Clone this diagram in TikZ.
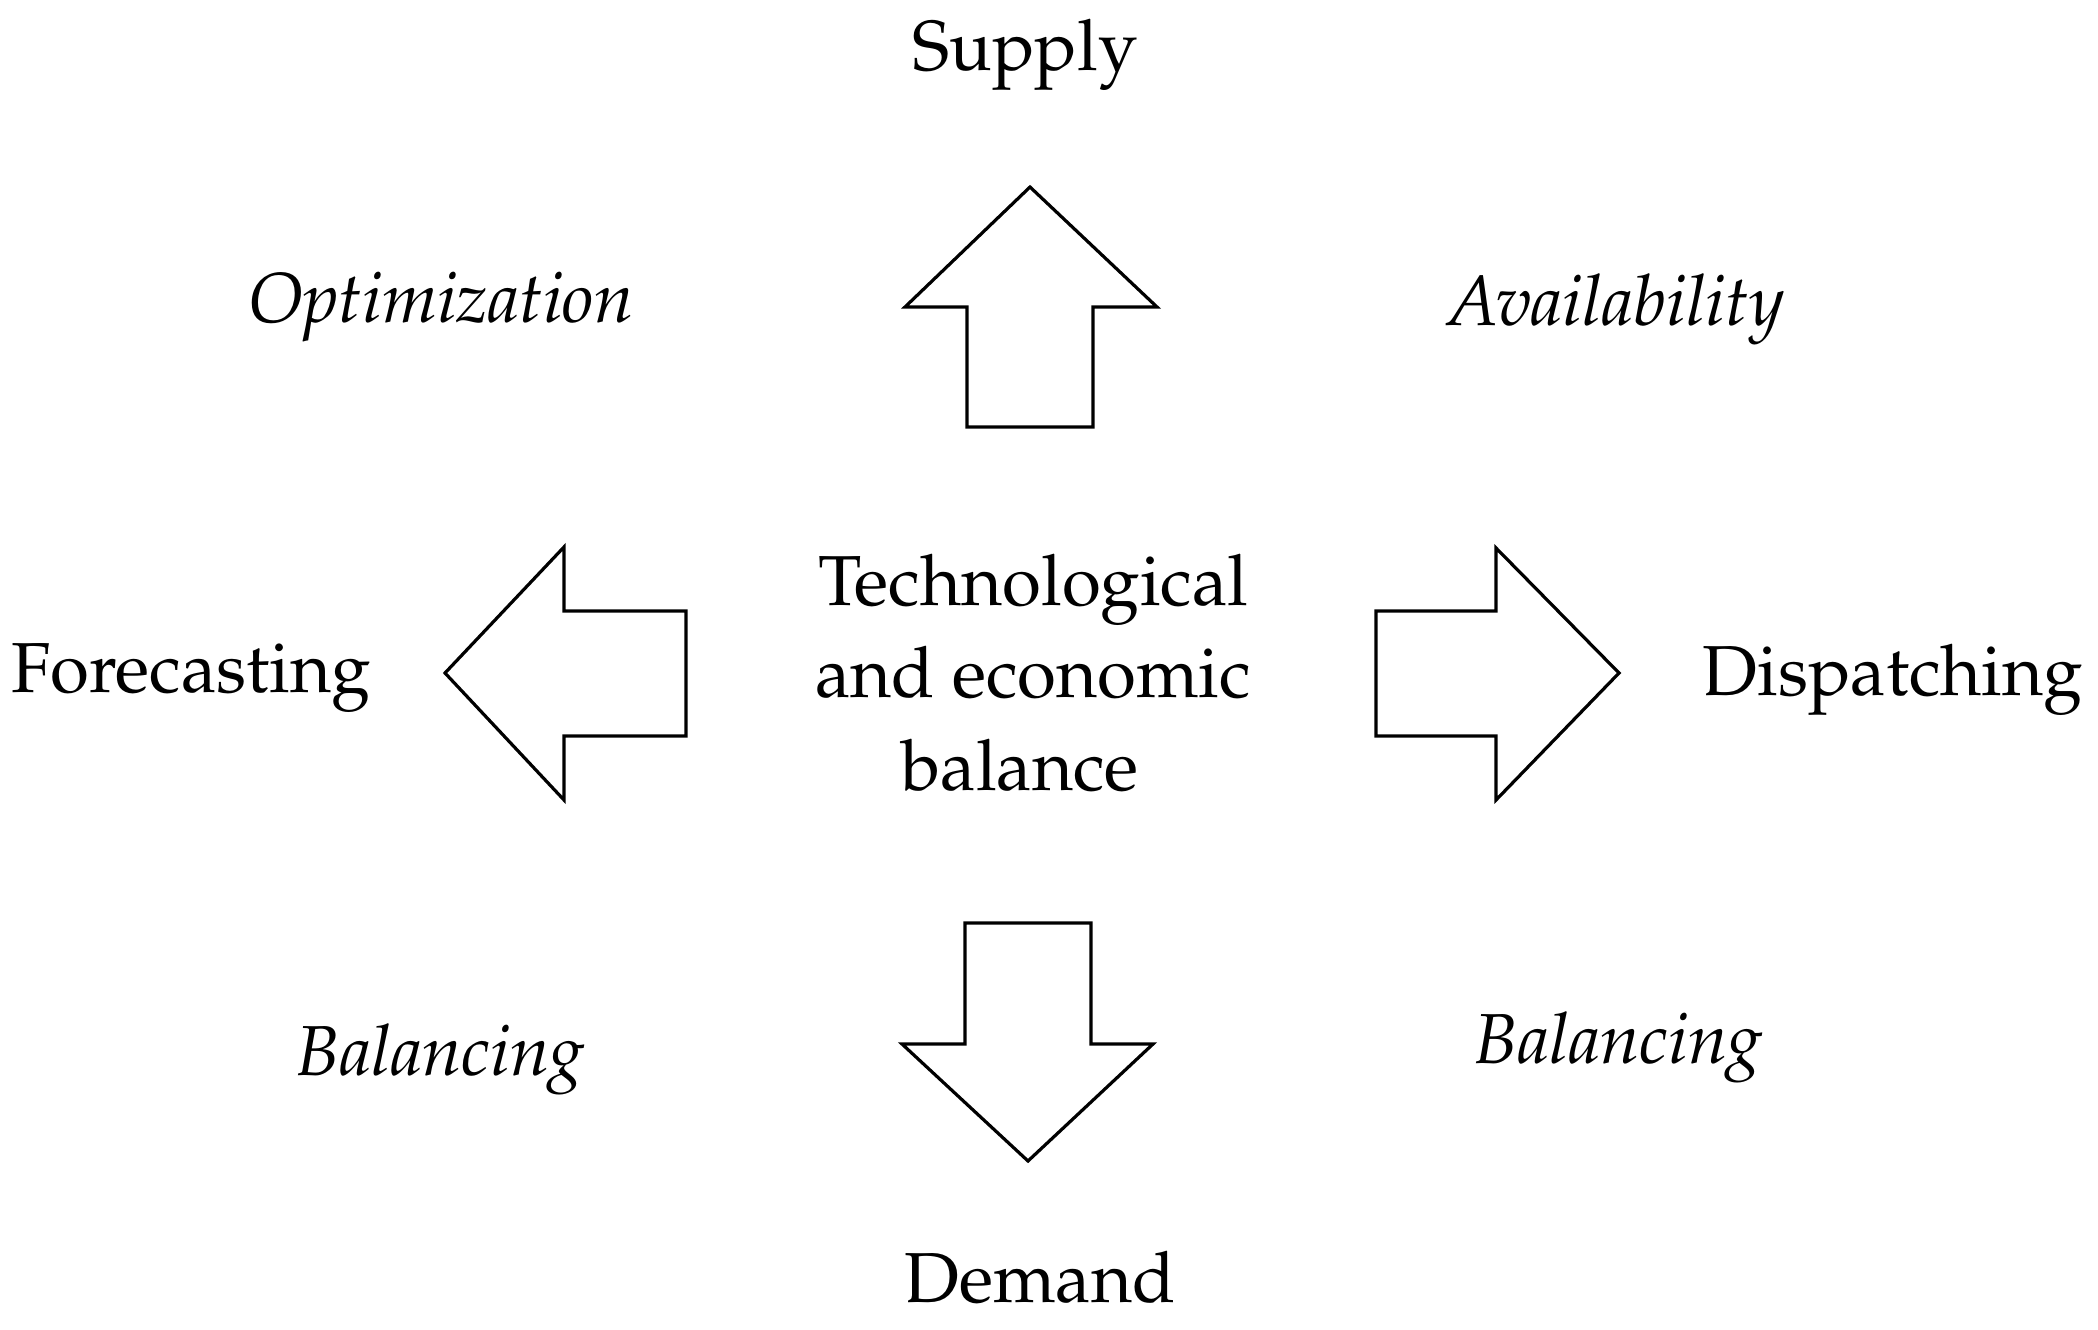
\documentclass[tikz,border=0pt]{standalone}
\usepackage[T1]{fontenc}
\usepackage{mathpazo}
\tikzset{
  bigarrow/.style={draw=black, line width=0.8pt, fill=white, line join=miter},
  lbl/.style={anchor=base, inner sep=0pt, font=\fontsize{17.7}{23}\selectfont},
  ilbl/.style={lbl, font=\fontsize{17.7}{23}\selectfont\itshape},
}
\begin{document}
\begin{tikzpicture}[x=0.25pt, y=-0.25pt]
\useasboundingbox (0,0) rectangle (2098,1329);
% arrows
\draw[bigarrow] (1030,187) -- (1157,307) -- (1093,307) -- (1093,427) -- (967,427) -- (967,307) -- (905,307) -- cycle;
\draw[bigarrow] (1028,1161) -- (1153,1044) -- (1091,1044) -- (1091,923) -- (965,923) -- (965,1044) -- (902,1044) -- cycle;
\draw[bigarrow] (445,673) -- (564,547) -- (564,611) -- (686,611) -- (686,736) -- (564,736) -- (564,800) -- cycle;
\draw[bigarrow] (1619,673) -- (1496,548) -- (1496,611) -- (1376,611) -- (1376,736) -- (1496,736) -- (1496,800) -- cycle;
% labels
\node[lbl] (supply) at (1025,70) {Supply};
\node[lbl] (demand) at (1040,1302) {Demand};
\node[lbl] (forecast) at (191,692) {Forecasting};
\node[lbl] (dispatch) at (1893,695) {Dispatching};
\node[ilbl] (optim) at (441,322) {Optimization};
\node[ilbl] (avail) at (1616,325) {Availability};
\node[ilbl] (balL) at (441,1075) {Balancing};
\node[ilbl] (balR) at (1619,1063) {Balancing};
\node[lbl] (tech1) at (1033,605) {Technological};
\node[lbl] (tech2) at (1033,697) {and economic};
\node[lbl] (tech3) at (1020,790) {balance};
\end{tikzpicture}
\end{document}
